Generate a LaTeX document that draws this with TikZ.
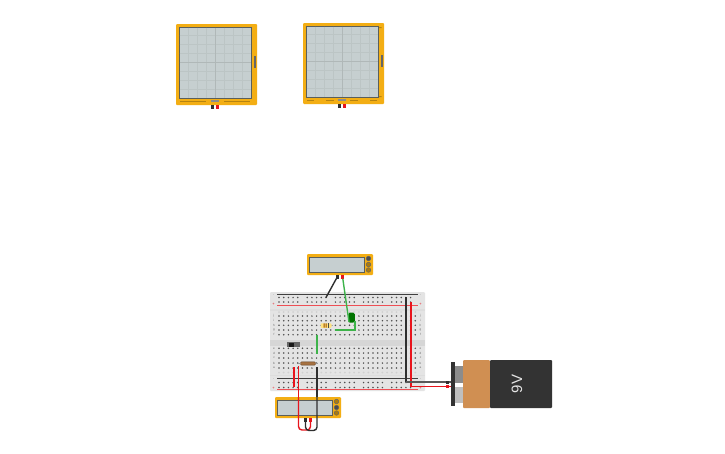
\documentclass[tikz,border=0pt]{standalone}
\usepackage{fontspec}
\setmainfont{Liberation Sans}
\definecolor{amber}{HTML}{F3AE14}
\definecolor{screen}{HTML}{C6CFD0}
\definecolor{bezel}{HTML}{5A5F5C}
\definecolor{gridc}{HTML}{B0B8B8}
\definecolor{board}{HTML}{E4E4E4}
\definecolor{band}{HTML}{D6D6D6}
\definecolor{hole}{HTML}{505050}
\definecolor{wred}{HTML}{E8141C}
\definecolor{wblack}{HTML}{2F2F2F}
\definecolor{wgreen}{HTML}{3DB34A}
\definecolor{copper}{HTML}{D08F52}
\definecolor{batt}{HTML}{333333}
\tikzset{
  wirered/.style={draw=wred,line width=1.4pt},
  wireblack/.style={draw=wblack,line width=1.4pt},
  wirelead/.style={draw=black!65,line width=1.2pt},
  wiregreen/.style={draw=wgreen,line width=1.4pt},
  loopwire/.style={rounded corners=3.5pt},
  casing/.style={fill=amber,rounded corners=1pt,draw=none},
  glass/.style={fill=screen,draw=bezel,line width=1pt},
  tinytext/.style={font=\fontsize{3}{3}\selectfont,text=black!60,inner sep=0pt},
  plug/.style={minimum width=3pt,minimum height=4pt,inner sep=0pt,draw=none},
  dial/.style={circle,minimum size=4.6pt,inner sep=0pt,draw=black!60,line width=.5pt}
}
\newcommand{\scopebox}[4]{% x y name bottom-marks
  \begin{scope}[shift={(#1,#2)}]
    \fill[casing] (0,0) rectangle (81,81);
    \fill[glass] (3,3) rectangle (75,74);
    \foreach \g in {12,21,30,48,57,66} {
      \draw[gridc!45!screen,line width=.35pt] (\g,3.5) -- (\g,73.5);
      \draw[gridc!45!screen,line width=.35pt] (3.5,\g-1) -- (74.5,\g-1);
    }
    \draw[gridc,line width=.6pt] (39,3.5) -- (39,73.5);
    \draw[gridc,line width=.6pt] (3.5,38.5) -- (74.5,38.5);
    \draw[amber!75!black,line width=.6pt] #4;
    \fill[black!45] (35,76.2) rectangle (43,78);
    \fill[black!60] (77.5,32) rectangle (79.5,44);
    \node[plug,fill=wblack] (#3k) at (36,82.5) {};
    \node[plug,fill=wred] (#3r) at (41,82.5) {};
  \end{scope}
}
\newcommand{\meterbox}[5]{% x y name dial colours
  \begin{scope}[shift={(#1,#2)}]
    \fill[casing] (0,0) rectangle (66,21);
    \fill[glass] (2.5,3) rectangle (57.5,18);
    \node[dial,fill=#3] at (61.5,4.5) {};
    \node[dial,fill=#4] at (61.5,10.5) {};
    \node[dial,fill=#5] at (61.5,16) {};
  \end{scope}
}
\begin{document}
\begin{tikzpicture}[x=1pt,y=-1pt]
\useasboundingbox (0,0) rectangle (725,453);
\fill[white] (0,0) rectangle (725,453);
\scopebox{176}{24}{sa}{(4,77) -- (30,77) (48,77) -- (74,77)}
\scopebox{303}{23}{sb}{(4,77) -- (11,77) (23,77) -- (31,77) (47,77) -- (55,77) (67,77) -- (74,77)}
\fill[amber!75!black] (379,27) rectangle (381.5,28) (379,96) rectangle (381.5,97);
% breadboard
\fill[board,rounded corners=1pt] (270,292) rectangle (425,391);
\fill[band] (270,340) rectangle (425,346);
\fill[band!50!board] (270,308.5) rectangle (425,310.5);
\fill[band!50!board] (270,374.5) rectangle (425,376);
\draw[black!75,line width=.7pt] (277,294) -- (418,294);
\draw[wred!75,line width=.5pt] (277,305) -- (418,305);
\draw[black!75,line width=.7pt] (277,378) -- (418,378);
\draw[wred!75,line width=.5pt] (277,389) -- (418,389);
\foreach \y in {297.5,302,382.5,387.5}
  \foreach \g in {0,1,...,4}
    \foreach \i in {0,1,2,3,4}
      \fill[hole] ({279+\g*28.2+\i*4.7},\y) circle (.85pt);
\foreach \y in {316,320.7,325.3,330,334.7,348.3,353,358,363,368}
  \foreach \i in {0,1,...,29}
    \fill[hole] ({279+\i*4.7},\y) circle (.85pt);
\foreach \y in {312,372.5}
  \foreach \i in {0,1,...,29}
    \fill[black!18] ({279+\i*4.7},\y) circle (1pt);
\foreach \y/\t in {316/j,320.7/i,325.3/h,330/g,334.7/f,348.3/e,353/d,358/c,363/b,368/a} {
  \node[tinytext] at (274,\y) {\t};
  \node[tinytext] at (420.5,\y) {\t};
}
\foreach \y in {305,389} {
  \node[font=\fontsize{4}{4}\selectfont,text=wred,inner sep=0pt] at (273.5,\y-1) {+};
  \node[font=\fontsize{4}{4}\selectfont,text=wred,inner sep=0pt] at (420.5,\y-1) {+};
}
\foreach \y in {295,379} {
  \node[tinytext] at (273.5,\y) {-};
  \node[tinytext] at (420.5,\y) {-};
}
% meters
\meterbox{307}{254}{black!70}{amber!70!black}{amber!70!black}
\meterbox{275}{397}{amber!70!black}{black!70}{amber!70!black}
% named connection points
\node[plug,fill=wblack] (mak) at (337.5,276.5) {};
\node[plug,fill=wred] (mar) at (342.5,276.5) {};
\node[plug,fill=wblack] (mbk) at (305.5,419.5) {};
\node[plug,fill=wred] (mbr) at (310.5,419.5) {};
\coordinate (h1) at (326,297.5);
\coordinate (h2) at (349,322);
\coordinate (h3) at (335,330);
\coordinate (h4) at (355,330);
\coordinate (h5) at (355,321);
\coordinate (h6) at (317,335);
\coordinate (h7) at (317,354);
\coordinate (h8) at (317,367);
\coordinate (h9) at (317,397);
\coordinate (h10) at (298.5,366);
\coordinate (h11) at (298.5,397);
\coordinate (h12) at (294,367);
\coordinate (h13) at (294,387);
\coordinate (h14) at (406,297);
\coordinate (h15) at (406,382);
\coordinate (h16) at (411,302);
\coordinate (h17) at (411,386.5);
% green LED
\node[rounded corners=1.5pt,fill=green!45!black,minimum width=6.5pt,minimum height=10pt,inner sep=0pt] (led) at (351.5,317.5) {};
% resistors
\node[fill=orange!45!yellow!50!white,rounded corners=1pt,minimum width=11pt,minimum height=4.5pt,inner sep=0pt] (ra) at (326,325.5) {};
\fill[orange!60!black] (323.5,323.3) rectangle (324.5,327.7) (325.5,323.3) rectangle (326.5,327.7);
\fill[black!70] (327.5,323.3) rectangle (328.5,327.7);
\draw[black!35,line width=.5pt] (319.5,325.5) -- (ra.west) (ra.east) -- (333,325.5);
\node[fill=copper!80!black,draw=black!55!copper,line width=.4pt,rounded corners=1pt,minimum width=15pt,minimum height=3.2pt,inner sep=0pt] (rb) at (308,363.5) {};
\draw[black!40,line width=.5pt] (298,363.5) -- (rb.west) (rb.east) -- (318,363.5);
% switch
\node[fill=black!60,minimum width=13pt,minimum height=5pt,inner sep=0pt] (sw) at (293.5,344.5) {};
\fill[black!90] (288.5,342.5) rectangle (294,346.5);
% wires
\draw[wireblack] (mak) -- (h1);
\draw[wiregreen] (mar) -- (h2);
\draw[wiregreen] (h3) -- (h4) -- (h5);
\draw[wiregreen] (h6) -- (h7);
\draw[wireblack] (h8) -- (h9);
\draw[wirered] (h10) -- (h11);
\draw[wirered] (h12) -- (h13);
\draw[wireblack] (h14) -- (h15);
\draw[wirered] (h16) -- (h17);
% battery
\node[fill=batt,minimum width=4pt,minimum height=44pt,inner sep=0pt] (plate) at (453,384) {};
\fill[black!45] (455,366) rectangle (463,383);
\fill[black!25] (455,387) rectangle (463,403);
\fill[copper,rounded corners=1pt] (463,360) -- (490,360) -- (490,408) -- (463,408) -- cycle;
\fill[batt,rounded corners=1pt] (490,360) -- (552,360) -- (552,408) -- (490,408) -- cycle;
\node[rotate=90,text=white!90!black,font=\fontsize{15}{15}\selectfont,inner sep=0pt] (nv) at (517,384) {9V};
\coordinate (bk) at (plate.west |- h15);
\coordinate (br) at (plate.west |- h17);
\draw[wirelead] (h15) -- (bk);
\draw[wirered] (h17) -- (br);
\fill[wblack] (446,380.5) rectangle (449,383.5);
\fill[wred] (446,385) rectangle (449,388);
% probe loops
\draw[wirered,loopwire] (h11) -- (298.5,430) -- (310.5,430) -- (mbr);
\draw[wireblack,loopwire] (h9) -- (317,430.5) -- (305.5,430.5) -- (mbk);
\end{tikzpicture}
\end{document}
